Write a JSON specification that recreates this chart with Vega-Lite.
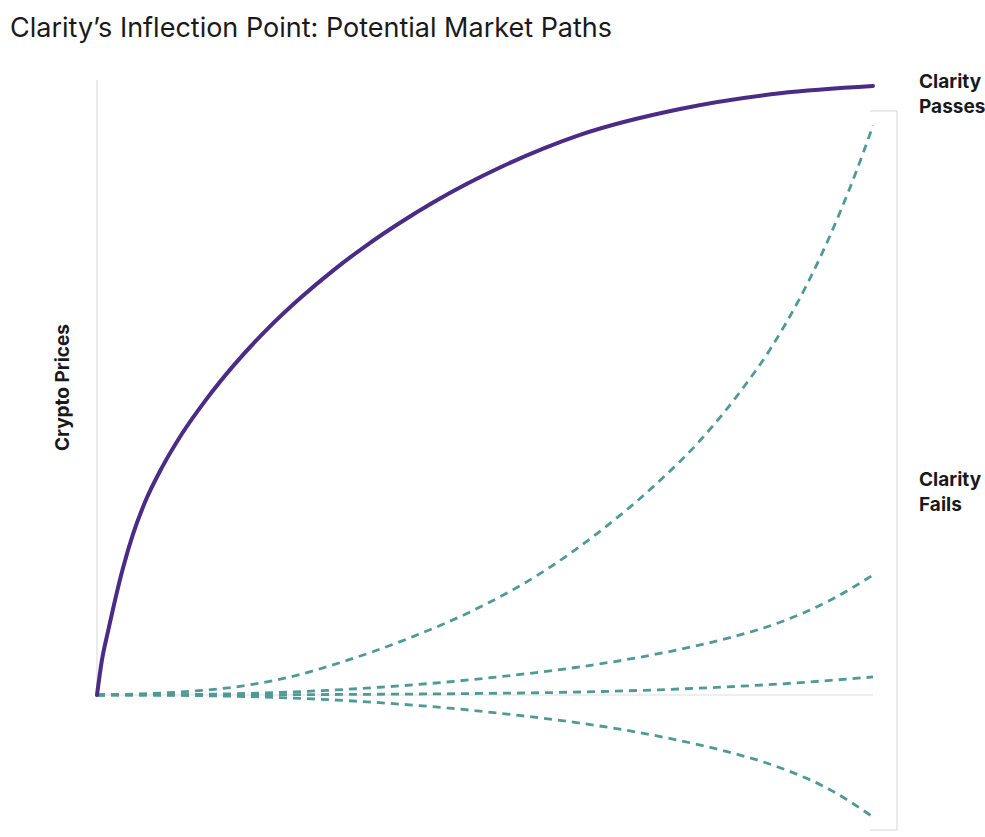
{
  "$schema": "https://vega.github.io/schema/vega-lite/v6.json",
  "width": 888,
  "height": 777,
  "autosize": {"type": "none"},
  "padding": {"left": 97, "top": 60, "right": 0, "bottom": 0},
  "background": "white",
  "config": {"view": {"stroke": null}, "font": "Inter"},
  "title": {
    "text": "Clarity’s Inflection Point: Potential Market Paths",
    "anchor": "start",
    "frame": "group",
    "dx": -87,
    "dy": 29,
    "offset": 25,
    "baseline": "alphabetic",
    "font": "Inter",
    "fontSize": 27,
    "fontWeight": "normal",
    "color": "#1a1a1a"
  },
  "datasets": {
    "passes": [
      {"t": 0, "v": 0}, {"t": 0.64, "v": 5.76}, {"t": 1.42, "v": 10.44}, {"t": 3.35, "v": 20.86},
      {"t": 4.64, "v": 26.41}, {"t": 6.19, "v": 31.68}, {"t": 8.38, "v": 37.37}, {"t": 10.95, "v": 42.9},
      {"t": 14.18, "v": 48.71}, {"t": 17.53, "v": 54.0}, {"t": 21.91, "v": 60.04}, {"t": 26.16, "v": 65.14},
      {"t": 30.41, "v": 69.69}, {"t": 34.79, "v": 73.89}, {"t": 39.05, "v": 77.55}, {"t": 43.3, "v": 80.87},
      {"t": 47.68, "v": 83.94}, {"t": 51.93, "v": 86.62}, {"t": 62.24, "v": 91.98}, {"t": 75.13, "v": 96.23},
      {"t": 88.02, "v": 98.81}, {"t": 100, "v": 100}
    ],
    "fails": [
      {"path": "a", "t": 0, "v": 0}, {"path": "a", "t": 11.98, "v": 0.6}, {"path": "a", "t": 16.24, "v": 1.07},
      {"path": "a", "t": 20.62, "v": 1.86}, {"path": "a", "t": 24.87, "v": 2.96}, {"path": "a", "t": 32.22, "v": 5.68},
      {"path": "a", "t": 40.72, "v": 9.59}, {"path": "a", "t": 49.36, "v": 14.43}, {"path": "a", "t": 57.09, "v": 19.92},
      {"path": "a", "t": 64.82, "v": 26.88}, {"path": "a", "t": 72.55, "v": 35.23}, {"path": "a", "t": 77.71, "v": 41.78},
      {"path": "a", "t": 82.86, "v": 49.76}, {"path": "a", "t": 86.73, "v": 56.73}, {"path": "a", "t": 90.59, "v": 65.22},
      {"path": "a", "t": 93.17, "v": 71.8}, {"path": "a", "t": 95.75, "v": 79.28}, {"path": "a", "t": 97.94, "v": 86.29},
      {"path": "a", "t": 100, "v": 93.5},
      {"path": "b", "t": 0, "v": 0}, {"path": "b", "t": 13.27, "v": 0.11}, {"path": "b", "t": 23.58, "v": 0.42},
      {"path": "b", "t": 36.47, "v": 1.27}, {"path": "b", "t": 45.1, "v": 2.13}, {"path": "b", "t": 53.61, "v": 3.24},
      {"path": "b", "t": 62.24, "v": 4.62}, {"path": "b", "t": 68.69, "v": 5.91}, {"path": "b", "t": 75.13, "v": 7.49},
      {"path": "b", "t": 81.57, "v": 9.42}, {"path": "b", "t": 88.02, "v": 11.94}, {"path": "b", "t": 94.46, "v": 15.55},
      {"path": "b", "t": 100, "v": 19.7},
      {"path": "c", "t": 0, "v": 0}, {"path": "c", "t": 23.58, "v": 0.05}, {"path": "c", "t": 36.47, "v": 0.12},
      {"path": "c", "t": 49.36, "v": 0.25}, {"path": "c", "t": 62.24, "v": 0.49}, {"path": "c", "t": 75.13, "v": 0.99},
      {"path": "c", "t": 88.02, "v": 1.81}, {"path": "c", "t": 100, "v": 2.96},
      {"path": "d", "t": 0, "v": 0}, {"path": "d", "t": 13.27, "v": -0.11}, {"path": "d", "t": 23.58, "v": -0.42},
      {"path": "d", "t": 36.47, "v": -1.27}, {"path": "d", "t": 45.1, "v": -2.13}, {"path": "d", "t": 53.61, "v": -3.24},
      {"path": "d", "t": 62.24, "v": -4.62}, {"path": "d", "t": 68.69, "v": -5.91}, {"path": "d", "t": 75.13, "v": -7.49},
      {"path": "d", "t": 81.57, "v": -9.42}, {"path": "d", "t": 88.02, "v": -11.94}, {"path": "d", "t": 94.46, "v": -15.55},
      {"path": "d", "t": 100, "v": -20.03}
    ],
    "frame": [
      {"part": "y axis", "t": 0, "v": 0, "t2": 0, "v2": 101.0},
      {"part": "baseline", "t": 0, "v": 0, "t2": 100, "v2": 0},
      {"part": "bracket", "t": 103.09, "v": 95.9, "t2": 103.09, "v2": -22.17},
      {"part": "bracket top", "t": 99.6, "v": 95.9, "t2": 103.09, "v2": 95.9},
      {"part": "bracket bottom", "t": 99.6, "v": -22.17, "t2": 103.09, "v2": -22.17}
    ],
    "labels": [
      {"t": 105.93, "v": 99.67, "label": "Clarity\nPasses"},
      {"t": 105.93, "v": 34.32, "label": "Clarity\nFails"}
    ]
  },
  "layer": [
    {
      "data": {"name": "frame"},
      "mark": {"type": "rule", "color": "#dddddd", "strokeWidth": 1.2},
      "encoding": {
        "x": {"field": "t", "type": "quantitative", "scale": {"domain": [0, 114.43], "nice": false, "zero": false}, "axis": null},
        "y": {"field": "v", "type": "quantitative", "scale": {"domain": [-23.32, 104.27], "nice": false, "zero": false},
          "axis": {"title": "Crypto Prices", "domain": false, "ticks": false, "labels": false, "grid": false,
            "titleFont": "Inter", "titleFontSize": 19, "titleFontWeight": "bold", "titleColor": "#1a1a1a",
            "titleAngle": 270, "titleAlign": "center", "titleBaseline": "middle", "titleX": -35, "titleY": 327}},
        "x2": {"field": "t2"},
        "y2": {"field": "v2"}
      }
    },
    {
      "data": {"name": "fails"},
      "mark": {"type": "line", "color": "#4f9a97", "strokeWidth": 2.8, "strokeDash": [8, 6], "interpolate": "monotone"},
      "encoding": {
        "x": {"field": "t", "type": "quantitative"},
        "y": {"field": "v", "type": "quantitative"},
        "detail": {"field": "path"},
        "order": {"field": "t"}
      }
    },
    {
      "data": {"name": "passes"},
      "mark": {"type": "line", "color": "#4a2b85", "strokeWidth": 4, "interpolate": "monotone", "strokeCap": "round"},
      "encoding": {
        "x": {"field": "t", "type": "quantitative"},
        "y": {"field": "v", "type": "quantitative"},
        "order": {"field": "t"}
      }
    },
    {
      "data": {"name": "labels"},
      "mark": {"type": "text", "align": "left", "baseline": "alphabetic", "lineBreak": "\n", "lineHeight": 25,
        "font": "Inter", "fontSize": 19, "fontWeight": "bold", "color": "#1a1a1a"},
      "encoding": {
        "x": {"field": "t", "type": "quantitative"},
        "y": {"field": "v", "type": "quantitative"},
        "text": {"field": "label"}
      }
    }
  ]
}
